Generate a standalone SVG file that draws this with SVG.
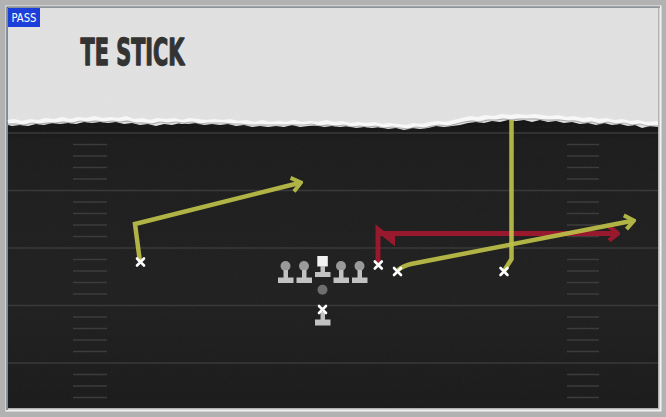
<svg xmlns="http://www.w3.org/2000/svg" width="666" height="417" viewBox="0 0 666 417">
<defs>
  <linearGradient id="fieldGrad" x1="0" y1="110" x2="0" y2="408" gradientUnits="userSpaceOnUse">
    <stop offset="0" stop-color="#0e0e0e"/>
    <stop offset="0.1" stop-color="#1d1e1d"/>
    <stop offset="0.6" stop-color="#212221"/>
    <stop offset="1" stop-color="#1c1c1c"/>
  </linearGradient>
  <filter id="grain" x="0" y="0" width="1" height="1">
    <feTurbulence type="fractalNoise" baseFrequency="0.9" numOctaves="2" seed="3" result="n"/>
    <feColorMatrix in="n" type="matrix" values="0 0 0 0 0.5  0 0 0 0 0.5  0 0 0 0 0.5  0 0 0 -1.6 0.9" result="a"/>
    <feComposite in="a" in2="SourceGraphic" operator="in"/>
  </filter>
  <marker id="arrY" viewBox="-12 -9 14 18" refX="0" refY="0" markerWidth="14" markerHeight="18" markerUnits="userSpaceOnUse" orient="auto">
    <path d="M-9,-7 L0,0 L-9,7" fill="none" stroke="#bcbf48" stroke-width="4" stroke-linejoin="miter"/>
  </marker>
  <marker id="arrR" viewBox="-12 -9 14 18" refX="0" refY="0" markerWidth="14" markerHeight="18" markerUnits="userSpaceOnUse" orient="auto">
    <path d="M-9,-7 L0,0 L-9,7" fill="none" stroke="#a3182f" stroke-width="4.5" stroke-linejoin="miter"/>
  </marker>
  <g id="xmark">
    <path d="M-3.5,-3.5 L3.5,3.5 M3.5,-3.5 L-3.5,3.5" stroke="#ffffff" stroke-width="2.6" stroke-linecap="round"/>
  </g>
</defs>
<style>
  .yard { stroke:#393a39; stroke-width:1.4; }
  .hash { stroke:#3b3c3b; stroke-width:1.4; }
  .yroute { fill:none; stroke:#bcbf48; stroke-width:4.5; stroke-linejoin:miter; opacity:0.93; }
  .rroute { fill:none; stroke:#a3182f; stroke-width:5; stroke-linejoin:miter; opacity:0.92; }
  .body { fill:#c2c2c2; }
  .head { fill:#9a9a9a; }
</style>

<!-- frame -->
<rect x="0" y="0" width="666" height="417" fill="#b2b2b2"/>
<rect x="6.5" y="6.5" width="654" height="404" fill="none" stroke="#f2f2f2" stroke-width="2"/>
<path d="M7,410 V7 H660" fill="none" stroke="#4f5866" stroke-width="1.2"/>

<!-- field -->
<rect x="8" y="110" width="650" height="298" fill="url(#fieldGrad)"/>
<rect x="8" y="110" width="650" height="298" fill="#ffffff" opacity="0.04" filter="url(#grain)"/>
<g id="yard-lines">
  <line class="yard" x1="8" y1="133" x2="658" y2="133"/>
  <line class="yard" x1="8" y1="190.5" x2="658" y2="190.5"/>
  <line class="yard" x1="8" y1="248" x2="658" y2="248"/>
  <line class="yard" x1="8" y1="305.5" x2="658" y2="305.5"/>
  <line class="yard" x1="8" y1="363" x2="658" y2="363"/>
</g>
<g id="hash-marks">
  <path class="hash" d="M73,144.5H107M73,156H107M73,167.5H107M73,179H107M73,202H107M73,213.5H107M73,225H107M73,236.5H107M73,259.5H107M73,271H107M73,282.5H107M73,294H107M73,317H107M73,328.5H107M73,340H107M73,351.5H107M73,374.5H107M73,386H107M73,397.5H107"/>
  <path class="hash" d="M567,144.5H599M567,156H599M567,167.5H599M567,179H599M567,202H599M567,213.5H599M567,225H599M567,236.5H599M567,259.5H599M567,271H599M567,282.5H599M567,294H599M567,317H599M567,328.5H599M567,340H599M567,351.5H599M567,374.5H599M567,386H599M567,397.5H599"/>
</g>

<!-- paper -->
<g id="paper">
  <path d="M8,8 H658 V127 L650,126 642,128 635,125 628,126 620,124 612,125 604,123 596,125 588,123 580,124 572,122 564,123 556,121 548,122 540,120 532,122 524,120 516,121 508,120 500,122 492,121 484,123 476,122 468,123 460,125 452,126 444,127 436,126 428,128 420,129 412,128 404,130 396,128 388,129 380,127 372,128 364,127 356,128 348,126 340,127 332,126 324,127 316,125 308,126 300,127 292,125 284,127 276,126 268,127 260,126 252,127 244,125 236,126 228,124 220,125 212,124 204,125 196,123 188,124 180,123 172,125 164,124 156,126 148,124 140,125 132,123 124,124 116,122 108,123 100,122 92,123 84,122 76,124 68,123 60,124 52,123 44,125 36,124 28,126 20,125 12,126 8,125 Z" fill="#e1e1e1"/>
  <rect x="8" y="8" width="650" height="120" fill="#888" opacity="0.08" filter="url(#grain)"/>
  <polyline points="8,122 14,121 22,123 30,121 38,122 46,120 54,121 62,119 70,121 78,119 86,120 94,118 102,120 110,119 118,120 126,118 134,121 142,120 150,122 158,120 166,121 174,120 182,122 190,120 198,121 206,122 214,121 222,122 230,121 238,123 246,122 254,124 262,122 270,124 278,123 286,124 294,122 302,124 310,123 318,124 326,122 334,124 342,123 350,125 358,124 366,125 374,124 382,126 390,125 398,126 406,127 414,125 422,126 430,124 438,123 446,124 454,122 462,120 470,118 478,119 486,117 494,118 502,116 510,117 518,116 526,117 534,116 542,117 550,118 558,117 566,119 574,118 582,120 590,119 598,121 606,120 614,122 622,121 630,123 638,122 646,124 658,123" fill="none" stroke="#f7f7f7" stroke-width="4"/>
  <polyline points="8,124 16,124 24,125 32,123 40,124 48,123 56,123 64,122 72,123 80,121 88,122 96,121 104,122 112,121 120,122 128,121 136,123 144,123 152,124 160,122 168,123 176,122 184,123 192,122 200,124 208,123 216,123 224,123 232,124 240,124 248,125 256,125 264,125 272,125 280,125 288,125 296,125 304,125 312,124 320,126 328,125 336,126 344,125 352,127 360,126 368,127 376,126 384,128 392,127 400,128 408,129 416,127 424,128 432,126 440,125 448,126 456,124 464,122 472,121 480,122 488,120 496,120 504,119 512,120 520,119 528,119 536,119 544,120 552,120 560,120 568,121 576,121 584,123 592,122 600,124 608,122 616,124 624,123 632,125 640,124 648,126 658,126" fill="none" stroke="#8d8d8d" stroke-width="1" opacity="0.7"/>
</g>

<!-- badge and title -->
<g id="badge">
  <rect x="8" y="8" width="32" height="19" fill="#1c3fdc"/>
  <text x="11.5" y="22" font-family="'Liberation Sans Narrow','DejaVu Sans Condensed','Liberation Sans',sans-serif" font-size="12" fill="#ffffff" textLength="25" lengthAdjust="spacingAndGlyphs">PASS</text>
</g>
<g id="title">
  <text x="80.5" y="64.5" font-family="'Liberation Sans Narrow','DejaVu Sans Condensed','Liberation Sans',sans-serif" font-weight="bold" font-size="38" fill="#333333" stroke="#333333" stroke-width="1.3" stroke-linejoin="round" textLength="104" lengthAdjust="spacingAndGlyphs">TE STICK</text>
</g>

<!-- connectors / routes -->
<g id="routes">
  <path class="rroute" d="M378,263 V229.5 L392.5,241 V233.5 M378,233.5 H618" marker-end="url(#arrR)"/>
  <path class="yroute" d="M140,262 L135,224 L301,182.5" marker-end="url(#arrY)"/>
  <path class="yroute" d="M504,271 L511.5,259 V120"/>
  <path class="yroute" d="M398,270 Q403,266 411,264 L634,220.5" marker-end="url(#arrY)"/>
</g>

<!-- players -->
<g id="lineman-1">
  <circle class="head" cx="285.5" cy="266" r="5"/>
  <rect class="body" x="283.5" y="270" width="4.5" height="8"/>
  <rect class="body" x="278" y="277.5" width="15.5" height="5.5"/>
</g>
<g id="lineman-2">
  <circle class="head" cx="304" cy="266" r="5"/>
  <rect class="body" x="302" y="270" width="4.5" height="8"/>
  <rect class="body" x="296.5" y="277.5" width="15.5" height="5.5"/>
</g>
<g id="center">
  <rect x="317.3" y="256" width="10.5" height="10.5" fill="#f2f2f2"/>
  <rect class="body" x="320.5" y="266" width="4.5" height="7"/>
  <rect class="body" x="315" y="272" width="15.5" height="5"/>
</g>
<g id="lineman-4">
  <circle class="head" cx="341" cy="266" r="5"/>
  <rect class="body" x="339" y="270" width="4.5" height="8"/>
  <rect class="body" x="333.5" y="277.5" width="15.5" height="5.5"/>
</g>
<g id="lineman-5">
  <circle class="head" cx="359.5" cy="266" r="5"/>
  <rect class="body" x="357.5" y="270" width="4.5" height="8"/>
  <rect class="body" x="352" y="277.5" width="15.5" height="5.5"/>
</g>
<g id="qb">
  <circle cx="322.5" cy="289.7" r="5" fill="#6e6e6e"/>
</g>
<g id="rb">
  <rect class="body" x="320.5" y="312" width="4.5" height="8"/>
  <rect class="body" x="315" y="319.5" width="15.5" height="6"/>
  <use href="#xmark" x="322.5" y="309.5"/>
</g>
<g id="wr-left"><use href="#xmark" x="140.5" y="262"/></g>
<g id="wr-red"><use href="#xmark" x="378.3" y="265"/></g>
<g id="wr-slot"><use href="#xmark" x="397.5" y="271.5"/></g>
<g id="te"><use href="#xmark" x="504" y="271.5"/></g>
</svg>
